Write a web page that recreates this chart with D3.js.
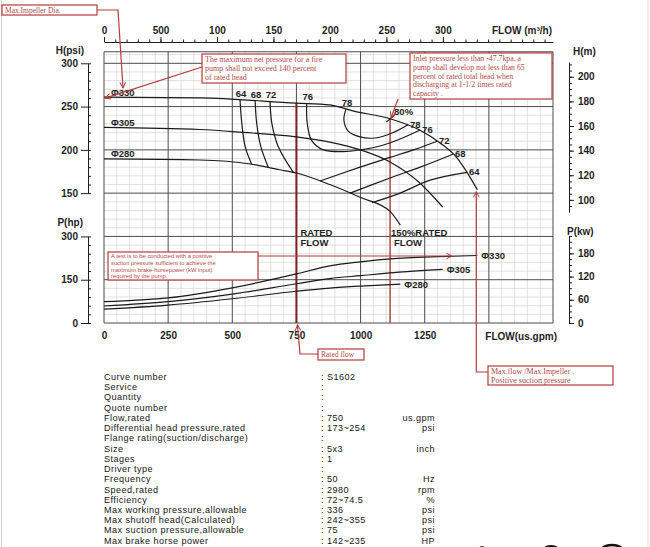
<!DOCTYPE html>
<html>
<head>
<meta charset="utf-8">
<script src="https://cdn.jsdelivr.net/npm/d3@7"></script>
<style>
  body { margin: 0; background: #fff; }
</style>
</head>
<body>
<svg id="chart" width="650" height="547" font-family='"Liberation Sans", Arial, sans-serif'></svg>
<script>
// ---- data: flow in us.gpm, head in psi, power in hp ----
let head330 = [[0,261],[374,260],[750,254],[880,252],[970,245],[1115,236],[1230,223],[1310,208],[1375,191],[1415,174],[1455,154]]
let head305 = [[0,226],[374,223.5],[530,220.5],[750,215],[880,209],[1000,200],[1115,186],[1230,162],[1320,134]]
let head280 = [[0,189.5],[374,188.3],[570,183.7],[685,177],[750,173.3],[880,160],[1000,145],[1115,129],[1155,113]]
let power330 = [[0,74],[250,87],[500,122],[750,170],[880,198],[1000,212],[1115,222],[1300,230],[1455,234]]
let power305 = [[0,59],[250,74],[500,100],[750,136],[880,154],[1000,164],[1150,176],[1320,186]]
let power280 = [[0,48],[250,62],[500,84],[750,110],[880,121],[1000,128],[1155,135]]
let diameters = ['Φ330', 'Φ305', 'Φ280']

// iso-efficiency lines (%)
let eff64L = [[530,258],[537,231],[550,204],[576,183]]
let eff68L = [[589,257],[595,231],[611,204],[640,180]]
let eff72L = [[647,256],[654,231],[679,204],[738,174]]
let eff76 = [[790,253.6],[792,231],[809,211],[855,200],[932,198],[998,200],[1076,204.5],[1154,212.6],[1232,223]]
let eff78 = [[943,247],[935,234.5],[951,222],[998,215],[1056,213.7],[1123,219.5],[1185,229]]
let eff72R = [[842,164],[998,180],[1115,191.3],[1212,200.6],[1298,210]]
let eff68R = [[959,150],[1115,167.5],[1232,180],[1360,195]]
let eff64R = [[1045,139],[1154,150],[1271,165],[1415,174]]
let effLeftLabels = ['64', '68', '72', '76', '78']
let effRightLabels = ['78', '76', '72', '68', '64']
let bepMark = [[1100,232],[1132,240]]

let ratedFlow = 750
let flow150 = 1115
let maxFlow = 1455

// ticks
let flowTicks = [0, 250, 500, 750, 1000, 1250]
let m3Ticks = [0, 50, 100, 150, 200, 250, 300]
let m3Labels = ['0', '500', '100', '150', '200', '250', '300']
let psiTicks = [150, 200, 250, 300]
let hpTicks = [0, 150, 300]
let mTicks = [100, 120, 140, 160, 180, 200]
let kwTicks = [0, 60, 120, 180]

// spec sheet
let specLabels = ['Curve number', 'Service', 'Quantity', 'Quote number', 'Flow,rated',
  'Differential head pressure,rated', 'Flange rating(suction/discharge)', 'Size', 'Stages',
  'Driver type', 'Frequency', 'Speed,rated', 'Efficiency', 'Max working pressure,allowable',
  'Max shutoff head(Calculated)', 'Max suction pressure,allowable', 'Max brake horse power']
let specValues = ['S1602', '', '', '', '750', '173~254', '', '5x3', '1', '', '50', '2980',
  '72~74.5', '336', '242~355', '75', '142~235']
let specUnits = ['', '', '', '', 'us.gpm', 'psi', '', 'inch', '', '', 'Hz', 'rpm', '%', 'psi', 'psi', 'psi', 'HP']

const svg = d3.select('#chart')
const red = '#b23b3b', redText = '#b24a4a', ink = '#1e1e1e'
const sans = '"Liberation Sans", Arial, sans-serif'
const serif = '"Liberation Serif", "Times New Roman", serif'

// ---- scales ----
let x = d3.scaleLinear().domain([0, 1750]).range([104, 553])
let xM3 = d3.scaleLinear().domain([0, 1750 / 4.4029]).range([104, 553])
// one vertical grid: power section at bottom, head section stacked above
let yAll = d3.scaleLinear().domain([0, 900]).range([323, 63.3])
let yH = d3.scaleLinear().domain([150, 300]).range([yAll(450), yAll(900)])
let yP = d3.scaleLinear().domain([0, 300]).range([yAll(0), yAll(300)])
let yM = d3.scaleLinear().domain([90, 212]).range([yH(90 / 0.70307), yH(212 / 0.70307)])
let yKW = d3.scaleLinear().domain([0, 225]).range([yP(0), yP(225 / 0.7457)])

// page edges
svg.append('line').attr('x1', 1.5).attr('x2', 1.5).attr('y1', 0).attr('y2', 547).attr('stroke', '#cfcfcf')
svg.append('line').attr('x1', 648).attr('x2', 648).attr('y1', 0).attr('y2', 547).attr('stroke', '#dcdcdc')

// ---- grid ----
let grid = svg.append('g')
grid.selectAll('.vmin').data(d3.range(0, 1751, 50).filter(d => d % 250)).enter().append('line')
  .attr('x1', d => x(d)).attr('x2', d => x(d)).attr('y1', yAll(0)).attr('y2', yAll(940))
  .attr('stroke', '#d4d4d4').attr('stroke-width', 0.7)
grid.selectAll('.hmin').data(d3.range(0, 931, 30).filter(d => d % 150)).enter().append('line')
  .attr('x1', x(0)).attr('x2', x(1750)).attr('y1', d => yAll(d)).attr('y2', d => yAll(d))
  .attr('stroke', '#d4d4d4').attr('stroke-width', 0.7)
grid.selectAll('.vmaj').data(d3.range(0, 1751, 250)).enter().append('line')
  .attr('x1', d => x(d)).attr('x2', d => x(d)).attr('y1', yAll(0)).attr('y2', yAll(940))
  .attr('stroke', '#4d4d4d').attr('stroke-width', 1)
grid.selectAll('.hmaj').data(d3.range(0, 901, 150).concat([940])).enter().append('line')
  .attr('x1', x(0)).attr('x2', x(1750)).attr('y1', d => yAll(d)).attr('y2', d => yAll(d))
  .attr('stroke', '#4d4d4d').attr('stroke-width', 1)

// ---- axes ----
function styleAxis(g) {
  g.attr('font-family', sans)
  g.selectAll('text').attr('font-size', 10).attr('font-weight', 'bold').attr('fill', ink)
  g.selectAll('line, path').attr('stroke', ink)
}
svg.append('g').attr('transform', 'translate(0,42)')
  .call(d3.axisTop(xM3).tickValues(m3Ticks).tickFormat((d, i) => m3Labels[i]).tickSize(5).tickSizeOuter(0).tickPadding(3))
  .call(styleAxis)
svg.append('g').attr('transform', 'translate(0,42)')
  .call(d3.axisTop(xM3).tickValues(d3.range(0, 391, 10)).tickSize(2.5).tickFormat(''))
  .call(g => g.select('.domain').remove()).call(styleAxis)

svg.append('g').attr('transform', 'translate(0,323)')
  .call(d3.axisBottom(x).tickValues(flowTicks).tickFormat(d3.format('d')).tickSize(0).tickPadding(9))
  .call(g => g.select('.domain').remove()).call(styleAxis)

svg.append('g').attr('transform', 'translate(88,0)')
  .call(d3.axisLeft(yH).tickValues(psiTicks).tickSize(7).tickSizeOuter(0).tickPadding(3)).call(styleAxis)
svg.append('g').attr('transform', 'translate(88,0)')
  .call(d3.axisRight(yH).tickValues(d3.range(150, 301, 10)).tickSize(3).tickFormat(''))
  .call(g => g.select('.domain').remove()).call(styleAxis)
svg.append('g').attr('transform', 'translate(88,0)')
  .call(d3.axisLeft(yP).tickValues(hpTicks).tickSize(7).tickSizeOuter(0).tickPadding(3)).call(styleAxis)
svg.append('g').attr('transform', 'translate(88,0)')
  .call(d3.axisRight(yP).tickValues(d3.range(0, 301, 30)).tickSize(3).tickFormat(''))
  .call(g => g.select('.domain').remove()).call(styleAxis)

svg.append('g').attr('transform', 'translate(569,0)')
  .call(d3.axisRight(yM).tickValues(mTicks).tickSize(5).tickSizeOuter(0).tickPadding(4)).call(styleAxis)
svg.append('g').attr('transform', 'translate(569,0)')
  .call(d3.axisRight(yM).tickValues(d3.range(95, 211, 5)).tickSize(3).tickFormat(''))
  .call(g => g.select('.domain').remove()).call(styleAxis)
svg.append('g').attr('transform', 'translate(569,0)')
  .call(d3.axisRight(yKW).tickValues(kwTicks).tickSize(5).tickSizeOuter(0).tickPadding(4)).call(styleAxis)
svg.append('g').attr('transform', 'translate(569,0)')
  .call(d3.axisRight(yKW).tickValues(d3.range(15, 226, 15)).tickSize(3).tickFormat(''))
  .call(g => g.select('.domain').remove()).call(styleAxis)

let titles = [['H(psi)', 84, 54, 'end'], ['P(hp)', 83, 226, 'end'], ['H(m)', 573, 55, 'start'],
  ['P(kw)', 567, 235, 'start'], ['FLOW (m³/h)', 552, 34, 'end'], ['FLOW(us.gpm)', 557, 340, 'end']]
svg.append('g').selectAll('text').data(titles).enter().append('text')
  .attr('x', d => d[1]).attr('y', d => d[2]).attr('text-anchor', d => d[3])
  .attr('font-size', 10).attr('font-weight', 'bold').attr('fill', ink).text(d => d[0])

// ---- red reference lines ----
let head330At = f => d3.scaleLinear().domain(head330.map(d => d[0])).range(head330.map(d => d[1]))(f)
svg.append('line').attr('x1', x(ratedFlow)).attr('x2', x(ratedFlow))
  .attr('y1', yH(head330At(ratedFlow))).attr('y2', yP(0))
  .attr('stroke', '#7d1f1f').attr('stroke-width', 2)
svg.append('line').attr('x1', x(flow150)).attr('x2', x(flow150))
  .attr('y1', yH(head330At(flow150))).attr('y2', yP(0))
  .attr('stroke', '#b04444').attr('stroke-width', 1.5)

// ---- curves ----
let lineH = d3.line().x(d => x(d[0])).y(d => yH(d[1])).curve(d3.curveMonotoneX)
let lineP = d3.line().x(d => x(d[0])).y(d => yP(d[1])).curve(d3.curveMonotoneX)
let lineE = d3.line().x(d => x(d[0])).y(d => yH(d[1])).curve(d3.curveCatmullRom.alpha(0.5))

let heads = [head330, head305, head280]
let powers = [power330, power305, power280]
let curves = svg.append('g').attr('fill', 'none').attr('stroke', '#1a1a1a').attr('stroke-width', 1.2)
curves.selectAll('.h').data(heads).enter().append('path').attr('d', lineH)
curves.selectAll('.p').data(powers).enter().append('path').attr('d', lineP)
let effLines = [eff64L, eff68L, eff72L, eff76, eff78, eff72R, eff68R, eff64R]
curves.selectAll('.e').data(effLines).enter().append('path').attr('d', lineE)
curves.append('path').attr('d', d3.line().x(d => x(d[0])).y(d => yH(d[1]))(bepMark))

let labels = svg.append('g').attr('font-size', 9.5).attr('font-weight', 'bold').attr('fill', ink)
labels.selectAll('.hl').data(heads).enter().append('text')
  .attr('x', d => x(d[0][0]) + 7).attr('y', d => yH(d[0][1]) - 1.5).text((d, i) => diameters[i])
labels.selectAll('.pl').data(powers).enter().append('text')
  .attr('x', d => x(d[d.length - 1][0]) + 4).attr('y', d => yP(d[d.length - 1][1]) + 4)
  .text((d, i) => diameters[i])
let leftEff = [eff64L, eff68L, eff72L, eff76, eff78]
labels.selectAll('.el').data(leftEff).enter().append('text')
  .attr('x', d => x(d[0][0]) + 1).attr('y', d => yH(d[0][1]) - 3).attr('text-anchor', 'middle')
  .text((d, i) => effLeftLabels[i])
let rightEff = [eff78, eff76, eff72R, eff68R, eff64R]
labels.selectAll('.er').data(rightEff).enter().append('text')
  .attr('x', d => x(d[d.length - 1][0]) + 2).attr('y', d => yH(d[d.length - 1][1]) + 3)
  .text((d, i) => effRightLabels[i])
labels.append('text').attr('x', x(flow150) + 4).attr('y', yH(head330At(flow150)) - 4).text('80%')
labels.append('text').attr('x', x(ratedFlow) + 4).attr('y', 236).text('RATED')
labels.append('text').attr('x', x(ratedFlow) + 4).attr('y', 246).text('FLOW')
labels.append('text').attr('x', x(flow150) + 1).attr('y', 236).text('150%RATED')
labels.append('text').attr('x', x(flow150) + 4).attr('y', 246).text('FLOW')

// ---- annotations ----
svg.append('defs').append('marker').attr('id', 'arr').attr('viewBox', '0 0 10 10')
  .attr('refX', 9).attr('refY', 5).attr('markerWidth', 7).attr('markerHeight', 7)
  .attr('markerUnits', 'userSpaceOnUse').attr('orient', 'auto')
  .append('path').attr('d', 'M1,1 L9,5 L1,9').attr('fill', 'none').attr('stroke', red).attr('stroke-width', 1.4)

let notes = [
  {x: 2, y: 5, w: 95, h: 10, size: 7.5, serif: true, lines: ['Max.Impeller Dia.']},
  {x: 202, y: 54, w: 144, h: 29, size: 8, serif: true, lines: ['The maximum net pressure for a fire', 'pump shall not exceed 140 percent', 'of rated head']},
  {x: 410, y: 53, w: 142, h: 46, size: 7.8, serif: true, lines: ['Inlet pressure less than -47.7kpa, a', 'pump shall develop not less than 65', 'percent of rated total head when', 'discharging at 1-1/2 times rated', 'capacity .']},
  {x: 108, y: 252, w: 150, h: 28, size: 5.8, serif: false, lines: ['A test is to be conducted with a positive', 'suction pressure sufficient to achieve the', 'maximum brake-horsepower (kW input)', 'required by the pump.']},
  {x: 318, y: 349, w: 46, h: 11, size: 7.5, serif: true, lines: ['Rated flow']},
  {x: 488, y: 366, w: 125, h: 19, size: 8, serif: true, lines: ['Max.flow /Max.Impeller ,', 'Positive suction pressure']}
]
let ng = svg.append('g').selectAll('g').data(notes).enter().append('g')
ng.append('rect').attr('x', d => d.x).attr('y', d => d.y).attr('width', d => d.w).attr('height', d => d.h)
  .attr('fill', '#fff').attr('stroke', red).attr('stroke-width', 1.2)
ng.each(function (d) {
  d3.select(this).selectAll('text').data(d.lines).enter().append('text')
    .attr('x', d.x + 3).attr('y', (t, i) => d.y + d.size + 0.3 + i * (d.size + 0.9))
    .attr('font-family', d.serif ? serif : sans)
    .attr('font-size', d.size).attr('fill', redText).text(t => t)
})

let arrows = [
  [[97, 10], [118, 10], [123, 88]],
  [[202, 67], [x(0) + 1, yH(head330[0][1]) + 1]],
  [[398, 99], [x(flow150) + 1, yH(head330At(flow150)) - 1]],
  [[318, 354], [300, 354], [x(ratedFlow) + 1, yP(0) + 2]],
  [[488, 372], [x(maxFlow) - 1, 372], [x(maxFlow) - 1, yH(head330[head330.length - 1][1]) + 2]],
  [[258, 256], [452, 256]]
]
svg.append('g').selectAll('path').data(arrows).enter().append('path')
  .attr('d', d3.line()).attr('fill', 'none').attr('stroke', red).attr('stroke-width', 1.2)
  .attr('marker-end', 'url(#arr)')

// ---- spec sheet ----
let spec = svg.append('g').attr('font-size', 9.1).attr('letter-spacing', 0.45).attr('fill', '#151515')
spec.selectAll('.sl').data(specLabels).enter().append('text')
  .attr('x', 104).attr('y', (d, i) => 380 + i * 10.23).text(d => d)
spec.selectAll('.sv').data(specValues).enter().append('text')
  .attr('x', 321).attr('y', (d, i) => 380 + i * 10.23).text(d => ': ' + d)
spec.selectAll('.su').data(specUnits).enter().append('text')
  .attr('x', 435).attr('y', (d, i) => 380 + i * 10.23).attr('text-anchor', 'end').text(d => d)

// cut-off marks at the bottom edge
svg.append('circle').attr('cx', 482).attr('cy', 549).attr('r', 3).attr('fill', '#333')
svg.append('ellipse').attr('cx', 551).attr('cy', 554).attr('rx', 11).attr('ry', 9).attr('fill', '#111')
svg.append('ellipse').attr('cx', 612).attr('cy', 556).attr('rx', 14).attr('ry', 11).attr('fill', 'none').attr('stroke', '#111').attr('stroke-width', 2.5)
</script>
</body>
</html>
